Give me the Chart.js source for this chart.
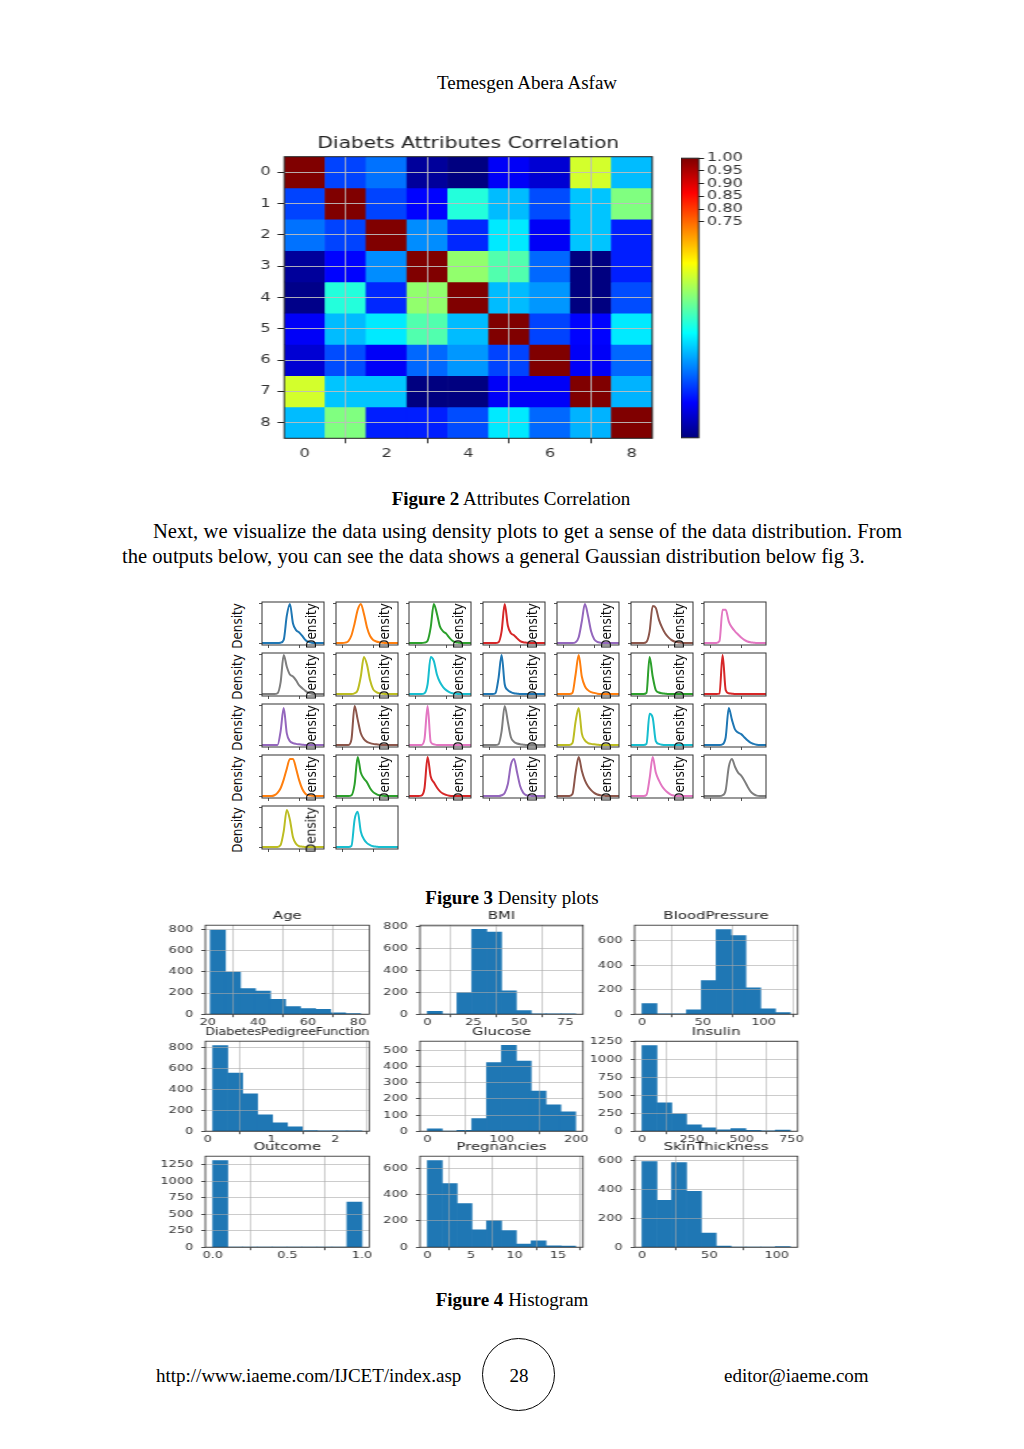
<!DOCTYPE html>
<html lang="en">
<head>
<meta charset="utf-8">
<title>Temesgen Abera Asfaw - 28</title>
<script src="https://cdn.jsdelivr.net/npm/chart.js@4.4.1/dist/chart.umd.min.js"></script>
<style>
  html, body { margin: 0; padding: 0; background: #fff; }
  #page { position: relative; width: 1024px; height: 1449px; overflow: hidden; font-family: "Liberation Serif", "Times New Roman", serif; font-size: 19px; color: #000; }
  .line { position: absolute; white-space: nowrap; line-height: 22px; }
  .para { font-size: 20.6px; }
  .center { transform: translateX(-50%); }
  .fig { position: absolute; transform-origin: 0 0; }
  .fig canvas, #densityFig canvas { position: absolute; }
  .dlabel { position: absolute; font-family: "DejaVu Sans", sans-serif; font-size: 12px; line-height: 12px; color: #111; white-space: nowrap; transform: translate(-50%, -50%) rotate(-90deg) scaleY(1.2); }
  #pagenum { position: absolute; left: 482px; top: 1338px; width: 73px; height: 73px; box-sizing: border-box; border: 1.5px solid #000; border-radius: 50%; }
</style>
</head>
<body>
<div id="page">
  <div class="line center" style="left:527px; top:72px;">Temesgen Abera Asfaw</div>

  <div class="fig" id="heatFig" style="left:230px; top:125px; width:393px; height:345px; transform:scaleX(1.35);"></div>
  <div class="line center" style="left:511px; top:488px;"><b>Figure 2</b> Attributes Correlation</div>

  <div class="line para" style="left:153px; top:520px; width:749px; text-align:justify; text-align-last:justify;">Next, we visualize the data using density plots to get a sense of the data distribution. From</div>
  <div class="line para" style="left:122px; top:545px;">the outputs below, you can see the data shows a general Gaussian distribution below fig 3.</div>

  <div id="densityFig" style="position:absolute; left:0; top:0;"></div>
  <div class="line center" style="left:512px; top:887px;"><b>Figure 3</b> Density plots</div>

  <div class="fig" id="histFig" style="left:150px; top:895px; width:497px; height:372px; transform:scaleX(1.35);"></div>
  <div class="line center" style="left:512px; top:1289px;"><b>Figure 4</b> Histogram</div>

  <div class="line" style="left:156px; top:1365px;">http://www.iaeme.com/IJCET/index.asp</div>
  <div id="pagenum"></div>
  <div class="line center" style="left:519px; top:1365px;">28</div>
  <div class="line" style="left:724px; top:1365px;">editor@iaeme.com</div>
</div>

<script>
// ---------- data: correlation heatmap ----------
const corrIdx = [0, 1, 2, 3, 4, 5, 6, 7, 8];
const corrMatrix = [
  [ 1.00, 0.11, 0.16, -0.07, -0.10, 0.03, -0.01, 0.54, 0.24],
  [ 0.11, 1.00, 0.11,  0.04,  0.35, 0.24,  0.12, 0.25, 0.45],
  [ 0.16, 0.11, 1.00,  0.19,  0.08, 0.29,  0.03, 0.25, 0.07],
  [-0.07, 0.04, 0.19,  1.00,  0.47, 0.40,  0.15, -0.10, 0.07],
  [-0.09, 0.35, 0.08,  0.47,  1.00, 0.24,  0.20, -0.10, 0.12],
  [ 0.03, 0.24, 0.29,  0.40,  0.24, 1.00,  0.11, 0.04, 0.29],
  [-0.01, 0.12, 0.03,  0.15,  0.20, 0.11,  1.00, 0.03, 0.15],
  [ 0.54, 0.25, 0.25, -0.10, -0.10, 0.03,  0.03, 1.00, 0.23],
  [ 0.24, 0.45, 0.07,  0.07,  0.12, 0.29,  0.15, 0.23, 1.00]
];
const heatXTicks = [0, 2, 4, 6, 8];
const heatYTicks = [0, 1, 2, 3, 4, 5, 6, 7, 8];
const cbRange = [-0.10, 1.00];
const cbTicks = [1.00, 0.95, 0.90, 0.85, 0.80, 0.75];

// ---------- data: density plots (relative density on a shared grid) ----------
const densityGrid = [0, 0.05, 0.1, 0.15, 0.2, 0.25, 0.3, 0.35, 0.4, 0.45, 0.5, 0.55, 0.6, 0.65, 0.7, 0.75, 0.8, 0.85, 0.9, 0.95, 1];
const densityCurves = [
  [0,0,0,0,0,0,0.01,0.08,0.7,1.0,0.5,0.33,0.27,0.18,0.08,0.03,0.01,0,0,0,0],
  [0,0,0,0.01,0.05,0.2,0.5,0.85,1.0,0.75,0.4,0.18,0.08,0.04,0.02,0.01,0,0,0,0,0],
  [0,0,0,0,0,0.01,0.06,0.4,1.0,0.75,0.42,0.3,0.24,0.14,0.06,0.02,0.01,0,0,0,0],
  [0,0,0,0,0,0.02,0.3,1.0,0.45,0.25,0.2,0.12,0.05,0.02,0.01,0,0,0,0,0,0],
  [0,0,0,0,0,0,0.02,0.15,0.55,1.0,0.7,0.3,0.1,0.03,0.01,0,0,0,0,0,0],
  [0,0,0,0,0,0.03,0.3,0.95,0.9,0.6,0.4,0.25,0.15,0.08,0.04,0.02,0.01,0,0,0,0],
  [0,0,0,0,0,0.05,0.85,0.85,0.55,0.4,0.3,0.22,0.14,0.08,0.04,0.02,0.01,0,0,0,0],
  [0,0,0,0,0,0.02,0.3,1.0,0.7,0.5,0.45,0.35,0.22,0.15,0.08,0.03,0.01,0,0,0,0],
  [0,0,0,0,0,0,0.02,0.1,0.45,0.95,0.75,0.35,0.12,0.05,0.02,0.01,0,0,0,0,0],
  [0,0,0,0,0,0.02,0.25,0.95,0.85,0.5,0.3,0.18,0.1,0.05,0.02,0.01,0,0,0,0,0],
  [0,0,0,0,0.02,0.4,1.0,0.25,0.1,0.05,0.02,0.01,0,0,0,0,0,0,0,0,0],
  [0,0,0,0,0,0.03,0.5,1.0,0.45,0.2,0.1,0.05,0.03,0.01,0,0,0,0,0,0,0],
  [0,0,0,0,0,0.03,0.95,0.45,0.1,0.04,0.02,0.01,0,0,0,0,0,0,0,0,0],
  [0,0,0,0,0,0.01,1.0,0.1,0.02,0.01,0,0,0,0,0,0,0,0,0,0,0],
  [0,0,0,0,0,0,0.35,0.95,0.3,0.1,0.05,0.03,0.02,0.01,0,0,0,0,0,0,0],
  [0,0,0,0,0,0.15,1.0,0.65,0.3,0.15,0.08,0.05,0.03,0.02,0.01,0,0,0,0,0,0],
  [0,0,0,0,0,0.15,1.0,0.08,0.02,0,0,0,0,0,0,0,0,0,0,0,0],
  [0,0,0,0,0,0.02,0.35,1.0,0.6,0.2,0.08,0.04,0.02,0.01,0,0,0,0,0,0,0],
  [0,0,0,0,0,0.05,0.6,0.95,0.3,0.12,0.05,0.03,0.02,0.01,0,0,0,0,0,0,0],
  [0,0,0,0,0,0.03,0.8,0.7,0.1,0.03,0.01,0,0,0,0,0,0,0,0,0,0],
  [0,0,0,0,0,0,0.02,0.2,0.95,0.65,0.4,0.32,0.28,0.2,0.12,0.06,0.03,0.01,0,0,0],
  [0,0,0,0,0.02,0.08,0.2,0.42,0.7,0.95,0.95,0.7,0.4,0.18,0.06,0.02,0.01,0,0,0,0],
  [0,0,0,0,0,0.02,0.3,1.0,0.6,0.45,0.35,0.2,0.1,0.05,0.02,0.01,0,0,0,0,0],
  [0,0,0,0,0.01,0.2,1.0,0.5,0.35,0.22,0.12,0.06,0.03,0.01,0,0,0,0,0,0,0],
  [0,0,0,0,0,0,0.02,0.08,0.3,0.8,0.95,0.6,0.25,0.08,0.02,0.01,0,0,0,0,0],
  [0,0,0,0,0,0.05,0.6,1.0,0.65,0.4,0.25,0.15,0.08,0.04,0.02,0.01,0,0,0,0,0],
  [0,0,0,0,0,0.03,0.45,1.0,0.6,0.4,0.25,0.15,0.08,0.03,0.01,0,0,0,0,0,0],
  [0,0,0,0,0,0,0.02,0.15,0.75,0.95,0.75,0.6,0.52,0.4,0.25,0.12,0.05,0.01,0,0,0],
  [0,0,0,0,0,0,0.05,0.4,0.95,0.7,0.25,0.08,0.02,0.01,0,0,0,0,0,0,0],
  [0,0,0,0,0,0.03,0.7,0.9,0.4,0.2,0.1,0.05,0.02,0.01,0,0,0,0,0,0,0]
];
const tab10 = ['#1f77b4', '#ff7f0e', '#2ca02c', '#d62728', '#9467bd', '#8c564b', '#e377c2', '#7f7f7f', '#bcbd22', '#17becf'];

// ---------- data: histograms (10 bins each) ----------
const histTitles = ['Age', 'BMI', 'BloodPressure', 'DiabetesPedigreeFunction', 'Glucose', 'Insulin', 'Outcome', 'Pregnancies', 'SkinThickness'];
const histDataRange = [[21, 81], [0, 80.6], [0, 122], [0.078, 2.42], [0, 199], [0, 744], [0, 1], [0, 17], [0, 110]];
const histCounts = [
  [795, 398, 241, 218, 140, 72, 54, 45, 12, 5],
  [27, 0, 197, 770, 745, 212, 33, 4, 4, 4],
  [86, 4, 4, 35, 274, 693, 644, 215, 43, 14],
  [815, 552, 356, 156, 79, 41, 6, 4, 3, 3],
  [14, 0, 6, 78, 424, 531, 434, 248, 163, 120],
  [1190, 394, 241, 88, 46, 18, 37, 12, 2, 15],
  [1316, 0, 0, 0, 0, 0, 0, 0, 0, 684],
  [657, 482, 330, 131, 201, 126, 23, 49, 10, 8],
  [591, 323, 584, 386, 98, 8, 0, 0, 0, 5]
];
const histXView = [[19, 84.5], [-4.03, 84.63], [-6.1, 128.1], [-0.039, 2.537], [-9.95, 208.95], [-37.2, 781.2], [-0.05, 1.05], [-0.85, 17.85], [-5.5, 115.5]];
const histXTicks = [[20, 40, 60, 80], [0, 25, 50, 75], [0, 50, 100], [0, 1, 2], [0, 100, 200], [0, 250, 500, 750], [0, 0.5, 1], [0, 5, 10, 15], [0, 50, 100]];
const histXDecimals = [0, 0, 0, 0, 0, 0, 1, 0, 0];
const histYMax = [840, 808, 728, 856, 557, 1250, 1382, 690, 628];
const histYTicks = [
  [0, 200, 400, 600, 800], [0, 200, 400, 600, 800], [0, 200, 400, 600],
  [0, 200, 400, 600, 800], [0, 100, 200, 300, 400, 500], [0, 250, 500, 750, 1000, 1250],
  [0, 250, 500, 750, 1000, 1250], [0, 200, 400, 600], [0, 200, 400, 600]
];

// ---------- common setup ----------
Chart.defaults.font.family = '"DejaVu Sans", sans-serif';
Chart.defaults.color = '#333';
Chart.defaults.animation = false;
Chart.defaults.responsive = false;
Chart.defaults.maintainAspectRatio = false;
Chart.defaults.events = [];
Chart.defaults.plugins.legend.display = false;
Chart.defaults.plugins.tooltip.enabled = false;

// box around each plot area, like matplotlib spines
Chart.register({
  id: 'frame',
  defaults: { color: '#222', width: 1 },
  afterDraw(chart, args, opts) {
    const { ctx, chartArea: a } = chart;
    ctx.save();
    ctx.strokeStyle = opts.color;
    ctx.lineWidth = opts.width;
    ctx.strokeRect(a.left, a.top, a.right - a.left, a.bottom - a.top);
    ctx.restore();
  }
});

function jet(t) {
  const c = x => Math.round(255 * Math.min(1, Math.max(0, x)));
  return 'rgb(' + c(1.5 - Math.abs(4 * t - 3)) + ',' + c(1.5 - Math.abs(4 * t - 2)) + ',' + c(1.5 - Math.abs(4 * t - 1)) + ')';
}

function makeCanvas(parent, left, top, width, height) {
  const c = document.createElement('canvas');
  c.width = width;
  c.height = height;
  c.style.left = left + 'px';
  c.style.top = top + 'px';
  c.style.width = width + 'px';
  c.style.height = height + 'px';
  parent.appendChild(c);
  return c;
}

const setTicks = list => scale => { scale.ticks = list.map(v => ({ value: v })); };

// ---------- heatmap + colorbar (figure is stretched horizontally) ----------
const HK = 1.35, HX0 = 230, HY0 = 125;
const heatFig = document.getElementById('heatFig');
(function () {
  const plotL = (284.3 - HX0) / HK, plotW = 368 / HK;
  const plotT = 156.7 - HY0, plotH = 281.6;
  const titleH = 4 + 18 + 4.7, xh = 24;
  const top = plotT - titleH;
  const W = Math.ceil(plotL + plotW + 3), H = Math.ceil(titleH + plotH + xh);
  const cv = makeCanvas(heatFig, 0, top, W, H);
  // grid drawn on top of the cells, as matplotlib does
  const gridStyle = { color: 'rgba(190,190,190,0.9)', lineWidth: 1, tickLength: 5, tickColor: '#222', z: 1 };

  new Chart(cv, {
    type: 'bar',
    data: {
      datasets: corrMatrix.map((row, r) => ({
        data: row.map((v, c) => ({ x: corrIdx[c], y: [corrIdx[r] - 0.5, corrIdx[r] + 0.5] })),
        backgroundColor: row.map(v => jet((v - cbRange[0]) / (cbRange[1] - cbRange[0]))),
        borderWidth: 0,
        barPercentage: 1,
        categoryPercentage: 1,
        grouped: false
      }))
    },
    options: {
      layout: { padding: { right: W - plotL - plotW, bottom: H - titleH - plotH - xh } },
      plugins: {
        title: { display: true, text: 'Diabets Attributes Correlation', fullSize: false, color: '#222',
                 font: { size: 15, weight: 'normal' }, padding: { top: 5, bottom: 3.7 } },
        frame: { color: '#222', width: 1 }
      },
      scales: {
        x: {
          type: 'linear', min: -0.5, max: 8.5, offset: false,
          afterBuildTicks: setTicks(heatXTicks),
          afterFit: s => { s.height = xh; },
          ticks: { font: { size: 12 }, padding: 3, maxRotation: 0, autoSkip: false, callback: v => String(v) },
          grid: gridStyle,
          border: { display: false }
        },
        y: {
          type: 'linear', min: -0.5, max: 8.5, reverse: true,
          afterBuildTicks: setTicks(heatYTicks),
          afterFit: s => { s.width = plotL; },
          ticks: { font: { size: 12 }, padding: 5, autoSkip: false, callback: v => String(v) },
          grid: gridStyle,
          border: { display: false }
        }
      }
    }
  });

  // colorbar
  const cbL = (680.5 - HX0) / HK, cbW = 17.8 / HK, cbAxis = 45;
  const cbW2 = Math.ceil(cbW + cbAxis + 2), cbH = Math.ceil(8 + plotH + 8);
  const cb = makeCanvas(heatFig, cbL, plotT - 8, cbW2, cbH);
  new Chart(cb, {
    type: 'bar',
    data: {
      labels: [''],
      datasets: [{
        data: [cbRange],
        backgroundColor: ctx => {
          const a = ctx.chart.chartArea;
          if (!a) return '#000';
          const g = ctx.chart.ctx.createLinearGradient(0, a.bottom, 0, a.top);
          for (let k = 0; k <= 32; k++) g.addColorStop(k / 32, jet(k / 32));
          return g;
        },
        borderWidth: 0,
        barPercentage: 1,
        categoryPercentage: 1
      }]
    },
    options: {
      layout: { padding: { top: 8, bottom: cbH - 8 - plotH, right: cbW2 - cbW - cbAxis } },
      plugins: { frame: { color: '#222', width: 1 } },
      scales: {
        x: { display: false },
        y: {
          position: 'right', min: cbRange[0], max: cbRange[1],
          afterBuildTicks: setTicks(cbTicks),
          afterFit: s => { s.width = cbAxis; },
          ticks: { font: { size: 12 }, padding: 2, autoSkip: false, callback: v => v.toFixed(2) },
          grid: { drawOnChartArea: false, tickLength: 4, tickColor: '#222' },
          border: { display: false }
        }
      }
    }
  });
})();

// ---------- density plots ----------
const densityFig = document.getElementById('densityFig');
densityCurves.forEach((curve, i) => {
  const col = i % 7, row = Math.floor(i / 7);
  const boxL = 262 + col * 73.7, boxT = 602 + row * 51;
  const cv = makeCanvas(densityFig, boxL - 5, boxT - 1, 68, 49);
  new Chart(cv, {
    type: 'line',
    data: {
      datasets: [{
        data: curve.map((d, k) => ({ x: densityGrid[k], y: d })),
        borderColor: tab10[i % tab10.length],
        borderWidth: 2,
        pointRadius: 0,
        cubicInterpolationMode: 'monotone',
        fill: false
      }]
    },
    options: {
      layout: { padding: { top: 1, right: 1 } },
      plugins: { frame: { color: '#333', width: 1 } },
      scales: {
        x: {
          type: 'linear', min: 0, max: 1,
          afterBuildTicks: setTicks([0.1, 0.6]),
          afterFit: s => { s.height = 5; },
          ticks: { display: false },
          grid: { drawOnChartArea: false, tickLength: 3, tickColor: '#555' },
          border: { display: false }
        },
        y: {
          min: -0.05, max: 1.05,
          afterBuildTicks: setTicks([0, 0.5, 1]),
          afterFit: s => { s.width = 5; },
          ticks: { display: false },
          grid: { drawOnChartArea: false, tickLength: 3, tickColor: '#555' },
          border: { display: false }
        }
      }
    }
  });
});
// "Density" axis labels, drawn on top of the neighbouring plots as in the original
densityCurves.forEach((curve, i) => {
  const col = i % 7, row = Math.floor(i / 7);
  const lab = document.createElement('div');
  lab.className = 'dlabel';
  lab.textContent = 'Density';
  lab.style.left = (262 + col * 73.7 - 25) + 'px';
  lab.style.top = (602 + row * 51 + 24) + 'px';
  densityFig.appendChild(lab);
});

// ---------- histograms (figure is stretched horizontally) ----------
const HXK = 1.35, HXX0 = 150, HXY0 = 895;
const histFig = document.getElementById('histFig');
const histColLeft = [206, 420, 634], histColRight = [370, 583, 797];
const histRowTop = [925, 1041, 1156], histRowBottom = [1014, 1131, 1247];

histTitles.forEach((title, i) => {
  const col = i % 3, row = Math.floor(i / 3);
  const yw = 34, xh = 16, titleH = 2 + 13.2 + 2, padR = 8;
  const plotL = (histColLeft[col] - HXX0) / HXK;
  const plotW = (histColRight[col] - histColLeft[col]) / HXK;
  const plotT = histRowTop[row] - HXY0;
  const plotH = histRowBottom[row] - histRowTop[row];
  const W = Math.ceil(yw + plotW + padR), H = Math.ceil(titleH + plotH + xh);
  const cv = makeCanvas(histFig, plotL - yw, plotT - titleH, W, H);
  const [lo, hi] = histDataRange[i];
  const bw = (hi - lo) / histCounts[i].length;
  const grid = { color: 'rgba(170,170,170,0.75)', lineWidth: 0.8, tickLength: 3, tickColor: '#222', z: 1 };

  new Chart(cv, {
    type: 'bar',
    data: {
      datasets: [{
        data: histCounts[i].map((n, k) => ({ x: lo + (k + 0.5) * bw, y: n })),
        backgroundColor: '#1f77b4',
        borderWidth: 0,
        barPercentage: 1,
        categoryPercentage: 1
      }]
    },
    options: {
      layout: { padding: { right: W - yw - plotW, bottom: H - titleH - plotH - xh } },
      plugins: {
        title: { display: true, text: title, fullSize: false, color: '#222',
                 font: { size: 11, weight: 'normal' }, padding: { top: 2, bottom: 2 } },
        frame: { color: '#222', width: 0.8 }
      },
      scales: {
        x: {
          type: 'linear', min: histXView[i][0], max: histXView[i][1], offset: false,
          afterBuildTicks: setTicks(histXTicks[i]),
          afterFit: s => { s.height = xh; },
          ticks: { font: { size: 9.5 }, padding: 0, maxRotation: 0, autoSkip: false,
                   callback: v => v.toFixed(histXDecimals[i]) },
          grid: grid,
          border: { display: false }
        },
        y: {
          min: 0, max: histYMax[i],
          afterBuildTicks: setTicks(histYTicks[i]),
          afterFit: s => { s.width = yw; },
          ticks: { font: { size: 9.5 }, padding: 6, autoSkip: false, callback: v => String(v) },
          grid: grid,
          border: { display: false }
        }
      }
    }
  });
});
</script>
</body>
</html>
